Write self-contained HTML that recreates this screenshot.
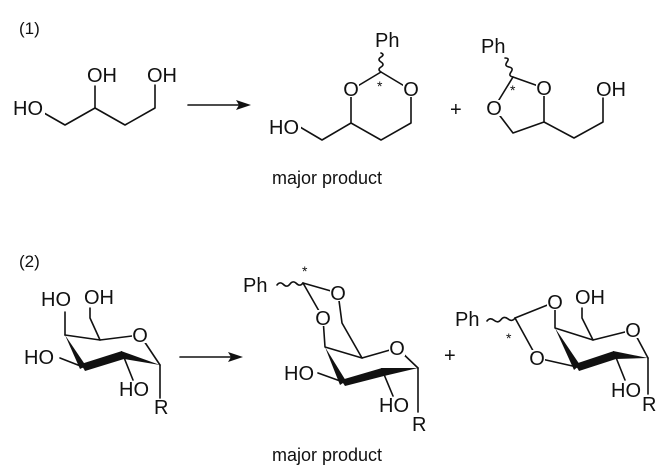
<!DOCTYPE html>
<html><head><meta charset="utf-8"><style>
html,body{margin:0;padding:0;background:#fff}
svg{display:block}
text{font-family:"Liberation Sans",sans-serif;font-size:20px;fill:#111}
.a{text-anchor:middle}
.l{stroke:#111;stroke-width:1.6;fill:none;stroke-linejoin:round;stroke-linecap:round}
.w{fill:#fff}
</style></head><body>
<svg width="667" height="474" viewBox="0 0 667 474" xmlns="http://www.w3.org/2000/svg">
<!-- (1) -->
<text x="19" y="34" style="font-size:17px">(1)</text>
<polyline class="l" points="44,113 65,125 95,108 125,125 155,108 155,85"/>
<line class="l" x1="95" y1="108" x2="95" y2="86"/>
<rect class="w" x="12" y="100" width="33" height="16"/><text class="a" x="28" y="115">HO</text>
<rect class="w" x="86" y="67" width="33" height="16"/><text class="a" x="102" y="82">OH</text>
<rect class="w" x="146" y="67" width="33" height="16"/><text class="a" x="162" y="82">OH</text>
<line class="l" x1="188" y1="105" x2="240" y2="105"/>
<polygon points="251,105 236,100 239,105 236,110" fill="#111"/>

<!-- product 1a -->
<polyline class="l" points="300,127 322,140 351,123 351,90 381,72 411,90 411,123 381,140 351,123"/>
<path class="l" d="M381,72 q-4,-2.5 0,-5 t0,-5 t0,-5 t0,-4"/>
<rect class="w" x="268" y="119" width="33" height="16"/><text class="a" x="284" y="134">HO</text>
<rect class="w" x="343" y="81" width="16" height="16"/><text class="a" x="351" y="96">O</text>
<rect class="w" x="403" y="81" width="16" height="16"/><text class="a" x="411" y="96">O</text>
<text x="375" y="47">Ph</text>
<text x="377" y="91" style="font-size:14px">*</text>
<text x="450" y="116">+</text>

<!-- product 1b -->
<polyline class="l" points="494,108 513,77 544,88 544,122 513,133 494,108"/>
<polyline class="l" points="544,122 574,138 603,122 603,98"/>
<path class="l" d="M513,77 q-5,-1 -2,-5 t-2,-5 t-2,-5 t-2,-4"/>
<rect class="w" x="486" y="100" width="16" height="16"/><text class="a" x="494" y="115">O</text>
<rect class="w" x="536" y="80" width="16" height="16"/><text class="a" x="544" y="95">O</text>
<rect class="w" x="595" y="81" width="33" height="16"/><text class="a" x="611" y="96">OH</text>
<text x="481" y="53">Ph</text>
<text x="510" y="95" style="font-size:14px">*</text>
<text x="272" y="184" style="font-size:18px">major product</text>

<!-- (2) -->
<text x="19" y="267" style="font-size:17px">(2)</text>
<polyline class="l" points="65,335 100,340 140,335 160,365"/>
<polyline class="l" points="100,340 90,318 90,308"/>
<line class="l" x1="65" y1="335" x2="65" y2="312"/>
<line class="l" x1="83" y1="367" x2="60" y2="358"/>
<line class="l" x1="123" y1="355" x2="133" y2="380"/>
<line class="l" x1="160" y1="365" x2="160" y2="398"/>
<polygon points="65,335 80,369 86,366" fill="#111"/>
<polygon points="81,364 122,351 124,359 85,371" fill="#111"/>
<polygon points="121,351 160,365 124,359" fill="#111"/>
<rect class="w" x="132" y="327" width="16" height="16"/><text class="a" x="140" y="342">O</text>
<rect class="w" x="40" y="291" width="33" height="16"/><text class="a" x="56" y="306">HO</text>
<rect class="w" x="83" y="289" width="33" height="16"/><text class="a" x="99" y="304">OH</text>
<rect class="w" x="23" y="349" width="33" height="16"/><text class="a" x="39" y="364">HO</text>
<rect class="w" x="118" y="381" width="33" height="16"/><text class="a" x="134" y="396">HO</text>
<text x="154" y="414">R</text>
<line class="l" x1="180" y1="357" x2="232" y2="357"/>
<polygon points="243,357 228,352 231,357 228,362" fill="#111"/>

<!-- product 2a -->
<polyline class="l" points="303,283 338,293 342,323 362,358 397,348 418,368"/>
<polyline class="l" points="303,283 323,318 325,347 362,358"/>
<line class="l" x1="343" y1="382" x2="318" y2="373"/>
<line class="l" x1="383" y1="372" x2="393" y2="396"/>
<line class="l" x1="418" y1="368" x2="418" y2="412"/>
<polygon points="325,347 340,385 346,381" fill="#111"/>
<polygon points="341,380 382,368 384,376 345,386" fill="#111"/>
<polygon points="381,368 418,368 384,376" fill="#111"/>
<path class="l" d="M277,285 q3,-4 6.5,-0.5 t6.5,-0.5 t6.5,-0.5 t6.5,-0.5"/>
<rect class="w" x="330" y="285" width="16" height="16"/><text class="a" x="338" y="300">O</text>
<rect class="w" x="315" y="310" width="16" height="16"/><text class="a" x="323" y="325">O</text>
<rect class="w" x="389" y="340" width="16" height="16"/><text class="a" x="397" y="355">O</text>
<text x="243" y="292">Ph</text>
<text x="302" y="276" style="font-size:14px">*</text>
<rect class="w" x="283" y="365" width="33" height="16"/><text class="a" x="299" y="380">HO</text>
<rect class="w" x="378" y="397" width="33" height="16"/><text class="a" x="394" y="412">HO</text>
<text x="412" y="431">R</text>
<text x="272" y="461" style="font-size:18px">major product</text>
<text x="444" y="362">+</text>

<!-- product 2b -->
<polyline class="l" points="515,318 555,302 555,328 593,340 633,330 648,358"/>
<polyline class="l" points="515,318 537,358 577,367"/>
<polyline class="l" points="593,340 582,318 582,308"/>
<line class="l" x1="615" y1="355" x2="625" y2="380"/>
<line class="l" x1="648" y1="358" x2="648" y2="394"/>
<polygon points="555,328 574,370 580,365" fill="#111"/>
<polygon points="575,364 614,351 616,359 579,371" fill="#111"/>
<polygon points="613,351 648,358 616,359" fill="#111"/>
<path class="l" d="M487,321 q3,-4 7,-0.7 t7,-0.7 t7,-0.7 t7,-0.7"/>
<rect class="w" x="547" y="294" width="16" height="16"/><text class="a" x="555" y="309">O</text>
<rect class="w" x="529" y="350" width="16" height="16"/><text class="a" x="537" y="365">O</text>
<rect class="w" x="625" y="322" width="16" height="16"/><text class="a" x="633" y="337">O</text>
<text x="455" y="326">Ph</text>
<text x="506" y="343" style="font-size:14px">*</text>
<rect class="w" x="574" y="289" width="33" height="16"/><text class="a" x="590" y="304">OH</text>
<rect class="w" x="610" y="382" width="33" height="16"/><text class="a" x="626" y="397">HO</text>
<text x="642" y="411">R</text>
</svg>
</body></html>
